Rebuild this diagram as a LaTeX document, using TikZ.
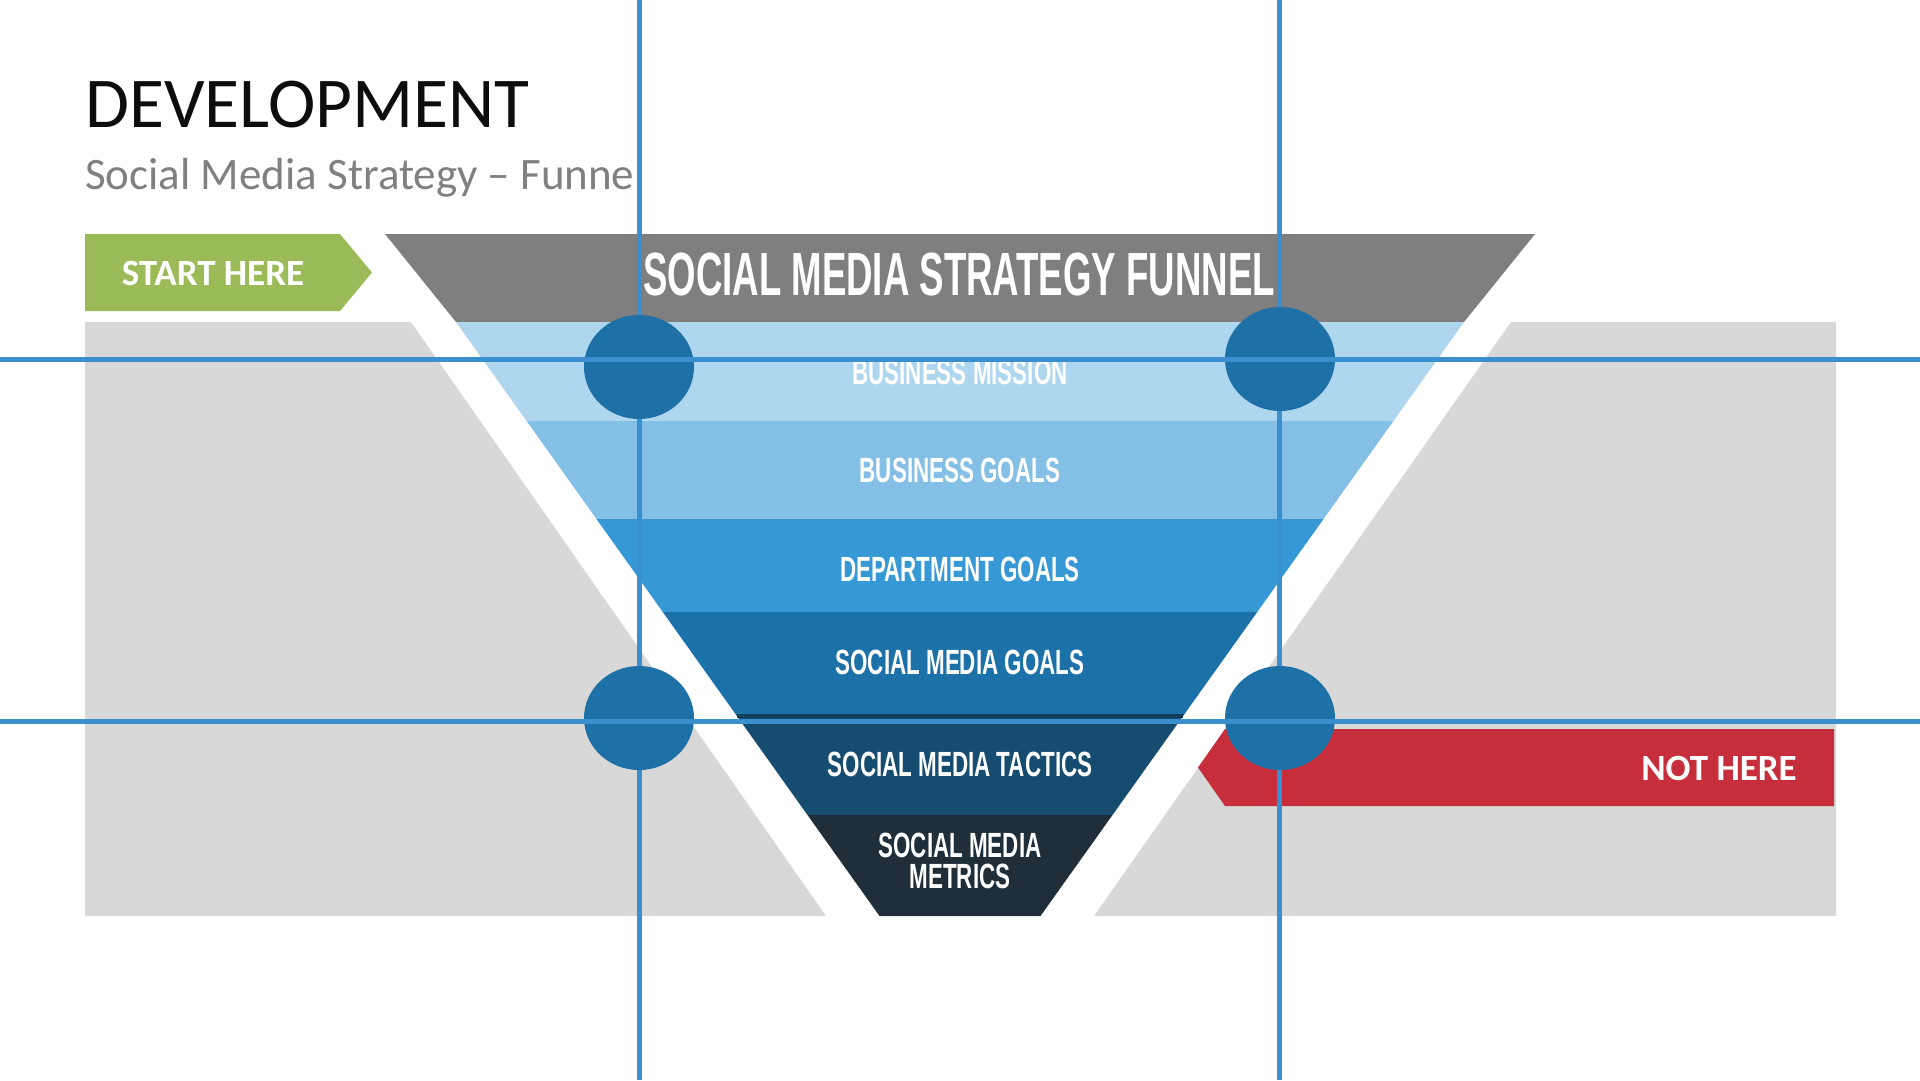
\documentclass[tikz,border=0pt]{standalone}
\usepackage{fontspec}
\usepackage{tikz}
\setmainfont{Carlito}
\newfontfamily\funnelfont[FakeStretch=0.64]{Liberation Sans}
\newfontfamily\headfont[FakeStretch=0.6]{Liberation Sans}
\definecolor{startgreen}{HTML}{9BBB59}
\definecolor{notred}{HTML}{C62E3C}
\definecolor{headgray}{HTML}{7F7F7F}
\definecolor{panelgray}{HTML}{D8D8D8}
\definecolor{layera}{HTML}{AED6EF}
\definecolor{layerb}{HTML}{84BFE6}
\definecolor{layerc}{HTML}{3798D6}
\definecolor{layerd}{HTML}{1C71A8}
\definecolor{layere}{HTML}{154C6F}
\definecolor{layerf}{HTML}{1F2E39}
\definecolor{sepblue}{HTML}{113E5D}
\definecolor{guideblue}{HTML}{3A8FCF}
\definecolor{dotblue}{HTML}{1E71A7}
\definecolor{subgray}{HTML}{808080}
\definecolor{titleblack}{HTML}{0D0D0D}

\begin{document}
\begin{tikzpicture}[x=1pt,y=-1pt,
	layertext/.style={anchor=base,inner sep=0,text=white,align=center,font=\funnelfont\bfseries\fontsize{35}{31}\selectfont},
	tagtext/.style={anchor=base,inner sep=0,text=white,font=\bfseries\fontsize{37}{37}\selectfont},
	guide/.style={guideblue,line width=5pt},
	dot/.style={fill=dotblue}]
	\useasboundingbox[fill=white] (0,0) rectangle (1920,1080);
	\fill[panelgray] (85,322) -- (411,322) -- (826,916) -- (85,916) -- cycle;
	\fill[panelgray] (1511,322) -- (1836,322) -- (1836,916) -- (1094,916) -- cycle;
	\fill[headgray] (385,234) -- (1535,234) -- (1464,322) -- (456,322) -- cycle;
	\foreach \a/\b/\c in {322/421/layera,421/519/layerb,519/612/layerc,612/714/layerd,714/815/layere,815/916/layerf}
		\fill[\c] ({456+0.713*(\a-322)},\a) -- ({1464-0.713*(\a-322)},\a) -- ({1464-0.713*(\b-322)},\b) -- ({456+0.713*(\b-322)},\b) -- cycle;
	\draw[sepblue,line width=4pt] ({456+0.713*394},716) -- ({1464-0.713*394},716);
	\fill[startgreen] (85,234) -- (340,234) -- (372,272.5) -- (340,311) -- (85,311) -- cycle;
	\fill[notred] (1834,729) -- (1225,729) -- (1198,767.5) -- (1225,806) -- (1834,806) -- cycle;

	\node[anchor=base west,inner sep=0,text=titleblack,font=\fontsize{71.5}{72}\selectfont] (title) at (85,127) {DEVELOPMENT};
	\node[anchor=base west,inner sep=0,text=subgray,font=\fontsize{45}{45}\selectfont] (subtitle) at (85,189) {Social Media Strategy – Funne};
	\node[tagtext] (start) at (213,285) {START HERE};
	\node[tagtext] (nothere) at (1719,780) {NOT HERE};
	\node[anchor=base,inner sep=0,text=white,font=\headfont\bfseries\fontsize{61}{61}\selectfont] (funneltitle) at (959,295) {SOCIAL MEDIA STRATEGY FUNNEL};
	\node[layertext] (mission) at (960,384) {BUSINESS MISSION};
	\node[layertext] (bgoals) at (960,482) {BUSINESS GOALS};
	\node[layertext] (dgoals) at (960,581) {DEPARTMENT GOALS};
	\node[layertext] (smgoals) at (960,674) {SOCIAL MEDIA GOALS};
	\node[layertext] (smtactics) at (960,776) {SOCIAL MEDIA TACTICS};
	\node[layertext,anchor=center] (smmetrics) at (960,861) {SOCIAL MEDIA\\METRICS};

	\draw[guide] (639,0) -- (639,1080);
	\draw[guide] (1279,0) -- (1279,1080);
	\fill[dot] (639,367) ellipse (55pt and 52pt);
	\fill[dot] (1280,359) ellipse (55pt and 52pt);
	\fill[dot] (639,718) ellipse (55pt and 52pt);
	\fill[dot] (1280,718) ellipse (55pt and 52pt);
	\draw[guide] (0,359) -- (1920,359);
	\draw[guide] (0,721) -- (1920,721);
\end{tikzpicture}
\end{document}
